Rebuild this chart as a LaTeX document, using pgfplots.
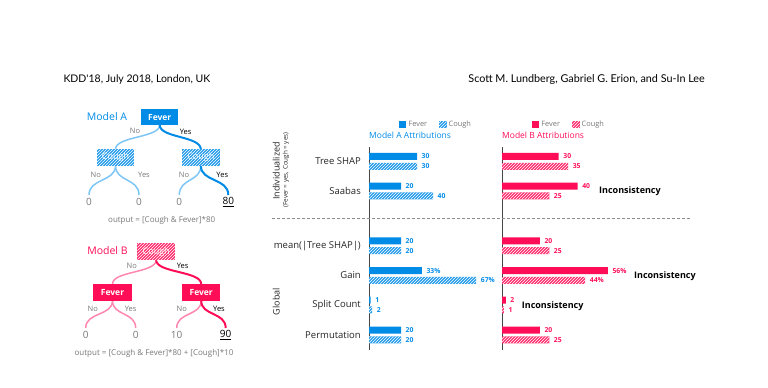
\documentclass[border=0pt]{standalone}
\usepackage{fontspec}
\setmainfont{Open Sans}
\newfontfamily\hdfont{Lato}
\usepackage{pgfplots}
\pgfplotsset{compat=1.18}
\usetikzlibrary{patterns}
\definecolor{shapblue}{RGB}{0,139,230}
\definecolor{shapred}{RGB}{255,13,87}
\definecolor{lblue}{RGB}{125,198,245}
\definecolor{lred}{RGB}{255,135,175}
\definecolor{tgray}{RGB}{120,120,120}
\definecolor{axgray}{RGB}{70,70,70}
\tikzset{
  hatchA/.style={fill=shapblue!85!white, postaction={pattern=north east lines, pattern color=white}},
  hatchB/.style={fill=shapred!85!white, postaction={pattern=north east lines, pattern color=white}},
}
\newcommand{\fs}[1]{\fontsize{#1}{#1}\selectfont}
\pgfplotsset{
  attrib/.style={
    xbar, bar width=7pt, bar shift=0pt,
    enlargelimits=false, clip=false,
    ymin=38, ymax=241.3, y=1pt,
    axis x line=none, axis y line=left,
    axis line style={-, axgray, line width=1pt},
    major tick length=0pt,
    legend image code/.code={\fill[##1] (0pt,-3.5pt) rectangle (7.5pt,3.5pt);},
    legend style={draw=none, fill=none, legend columns=2, font=\fs{7.4}\color{tgray},
      /tikz/every even column/.append style={column sep=10pt},
      inner sep=0pt, anchor=center},
    point meta=explicit symbolic,
    nodes near coords,
    nodes near coords style={font=\bfseries\fs{6.8}, anchor=west, inner sep=0pt, xshift=4.5pt},
  }
}
\begin{document}
\begin{tikzpicture}[x=1pt,y=1pt]
\useasboundingbox (0,0) rectangle (768,388);
% header
\node[anchor=west, inner sep=0pt, font=\hdfont\fs{10.5}] at (63.3,388-80) {KDD'18, July 2018, London, UK};
\node[anchor=east, inner sep=0pt, font=\hdfont\fs{10.8}] at (705,388-80) {Scott M. Lundberg, Gabriel G. Erion, and Su-In Lee};

% ---------- Model A axis
\begin{axis}[attrib, at={(369pt,38pt)}, anchor=south west, x=1.6pt, xmin=0, xmax=75,
  ytick={226.6,196.9,142.3,112.5,83,53},
  yticklabels={Tree SHAP, Saabas, mean(|Tree SHAP|), Gain, Split Count, Permutation},
  yticklabel style={font=\fs{9.5}, text=black!85, inner sep=0pt, xshift=-8pt},
  legend style={at={(0.558,1.11)}},
  every node near coord/.append style={text=shapblue},
]
\addplot[fill=shapblue, draw=none] coordinates {
 (30,231.5) [30] (20,201.8) [20] (20,147.2) [20] (33,117.4) [33\%] (1,87.9) [1] (20,57.9) [20]};
\addlegendentry{Fever}
\addplot[hatchA, draw=none] coordinates {
 (30,221.7) [30] (40,192.0) [40] (20,137.4) [20] (67,107.6) [67\%] (2,78.1) [2] (20,48.1) [20]};
\addlegendentry{Cough}
\node[anchor=west, font=\fs{8.5}, inner sep=0pt, text=shapblue] at (axis cs:0,252.3) {Model A Attributions};
\end{axis}

% ---------- Model B axis
\begin{axis}[attrib, at={(502pt,38pt)}, anchor=south west, x=1.89pt, xmin=0, xmax=100,
  ytick=\empty,
  legend style={at={(0.354,1.11)}},
  every node near coord/.append style={text=shapred},
]
\addplot[fill=shapred, draw=none] coordinates {
 (30,231.5) [30] (40,201.8) [40] (20,147.2) [20] (56,117.4) [56\%] (2,87.9) [2] (20,57.9) [20]};
\addlegendentry{Fever}
\addplot[hatchB, draw=none] coordinates {
 (35,221.7) [35] (25,192.0) [25] (25,137.4) [25] (44,107.6) [44\%] (1,78.1) [1] (25,48.1) [25]};
\addlegendentry{Cough}
\node[anchor=west, font=\fs{8.5}, inner sep=0pt, text=shapred] at (axis cs:0,252.3) {Model B Attributions};
\node[anchor=west, font=\bfseries\fs{9}, inner sep=0pt] at (axis cs:51.3,197) {Inconsistency};
\node[anchor=west, font=\bfseries\fs{9}, inner sep=0pt] at (axis cs:69.8,112) {Inconsistency};
\node[anchor=west, font=\bfseries\fs{9}, inner sep=0pt] at (axis cs:10.4,82.3) {Inconsistency};
\end{axis}

% group labels and separator
\draw[densely dashed, black!45, line width=0.6pt] (272,388-218.3) -- (690,388-218.3);
\node[rotate=90, font=\fs{9}, inner sep=0pt, text=black!85] at (276.3,388-171) {Individualized};
\node[rotate=90, font=\fs{6.3}, inner sep=0pt, text=black!85] at (286,388-170) {(Fever = yes, Cough = yes)};
\node[rotate=90, font=\fs{9}, inner sep=0pt, text=black!85] at (276.3,388-301.5) {Global};

% ---------- Trees
\begin{scope}[shift={(0,388)}, yscale=-1]
% Model A
\node[font=\fs{10.5}, text=shapblue, inner sep=0pt] at (107,116.7) {Model A};
\draw[lblue, line width=1.5pt] (159.7,125) .. controls (159.7,138) and (115.5,136) .. (115.5,149.3);
\draw[shapblue, line width=2pt] (159.7,125) .. controls (159.7,138) and (200.8,136) .. (200.8,149.3);
\draw[lblue, line width=1.5pt] (115.5,165.7) .. controls (115.5,182) and (89,178) .. (89,195);
\draw[lblue, line width=1.5pt] (115.5,165.7) .. controls (115.5,182) and (139,178) .. (139,195);
\draw[lblue, line width=1.5pt] (200.8,165.7) .. controls (200.8,182) and (179.3,178) .. (179.3,195);
\draw[shapblue, line width=2pt] (200.8,165.7) .. controls (200.8,182) and (228.3,178) .. (228.3,195);
\node[fill=shapblue, text=white, font=\bfseries\fs{8.5}, minimum width=37.3pt, minimum height=15.7pt, inner sep=0pt] at (159.7,117.2) {Fever};
\node[hatchA, text=white, font=\fs{9}, minimum width=37.6pt, minimum height=16.4pt, inner sep=0pt] at (115.5,157.5) {Cough};
\node[hatchA, text=white, font=\fs{9}, minimum width=37.6pt, minimum height=16.4pt, inner sep=0pt] at (200.8,157.5) {Cough};
\node[font=\fs{7.5}, text=tgray, inner sep=0pt] at (135,131) {No};
\node[font=\fs{7.5}, text=black, inner sep=0pt] at (185.7,131.7) {Yes};
\node[font=\fs{7.5}, text=tgray, inner sep=0pt] at (95.7,175) {No};
\node[font=\fs{7.5}, text=tgray, inner sep=0pt] at (144,175) {Yes};
\node[font=\fs{7.5}, text=tgray, inner sep=0pt] at (184,175) {No};
\node[font=\fs{7.5}, text=black, inner sep=0pt] at (222.3,175) {Yes};
\node[font=\fs{10}, text=tgray, inner sep=0pt] at (89,202.3) {0};
\node[font=\fs{10}, text=tgray, inner sep=0pt] at (139,202.3) {0};
\node[font=\fs{10}, text=tgray, inner sep=0pt] at (179.3,202.3) {0};
\node[font=\fs{10}, text=black, inner sep=0pt] at (228.3,202.3) {\underline{80}};
\node[font=\fs{8}, text=tgray, inner sep=0pt] at (161.7,220) {output = [Cough \& Fever]*80};
% Model B
\node[font=\fs{10.5}, text=shapred, inner sep=0pt] at (107.5,250.7) {Model B};
\draw[lred, line width=1.5pt] (156.2,260) .. controls (156.2,273) and (112.5,271) .. (112.5,284);
\draw[shapred, line width=2pt] (156.2,260) .. controls (156.2,273) and (201.2,271) .. (201.2,284);
\draw[lred, line width=1.5pt] (112.5,300.7) .. controls (112.5,316) and (85.7,312) .. (85.7,328);
\draw[lred, line width=1.5pt] (112.5,300.7) .. controls (112.5,316) and (135.7,312) .. (135.7,328);
\draw[lred, line width=1.5pt] (201.2,300.7) .. controls (201.2,316) and (176.7,312) .. (176.7,328);
\draw[shapred, line width=2pt] (201.2,300.7) .. controls (201.2,316) and (225.7,312) .. (225.7,328);
\node[hatchB, text=white, font=\fs{9}, minimum width=37.7pt, minimum height=16.7pt, inner sep=0pt] at (156.2,251.7) {Cough};
\node[fill=shapred, text=white, font=\bfseries\fs{8.5}, minimum width=38.4pt, minimum height=16.7pt, inner sep=0pt] at (112.5,292.3) {Fever};
\node[fill=shapred, text=white, font=\bfseries\fs{8.5}, minimum width=37.7pt, minimum height=16.7pt, inner sep=0pt] at (201.2,292.3) {Fever};
\node[font=\fs{7.5}, text=tgray, inner sep=0pt] at (131.7,266) {No};
\node[font=\fs{7.5}, text=black, inner sep=0pt] at (182.7,266) {Yes};
\node[font=\fs{7.5}, text=tgray, inner sep=0pt] at (92.7,309) {No};
\node[font=\fs{7.5}, text=tgray, inner sep=0pt] at (130.7,309) {Yes};
\node[font=\fs{7.5}, text=tgray, inner sep=0pt] at (181.7,309) {No};
\node[font=\fs{7.5}, text=black, inner sep=0pt] at (219,309) {Yes};
\node[font=\fs{10}, text=tgray, inner sep=0pt] at (85.7,335) {0};
\node[font=\fs{10}, text=tgray, inner sep=0pt] at (135.7,335) {0};
\node[font=\fs{10}, text=tgray, inner sep=0pt] at (176.7,335) {10};
\node[font=\fs{10}, text=black, inner sep=0pt] at (225.7,335) {\underline{90}};
\node[font=\fs{8}, text=tgray, inner sep=0pt] at (154,353.3) {output = [Cough \& Fever]*80 + [Cough]*10};
\end{scope}
\end{tikzpicture}
\end{document}
